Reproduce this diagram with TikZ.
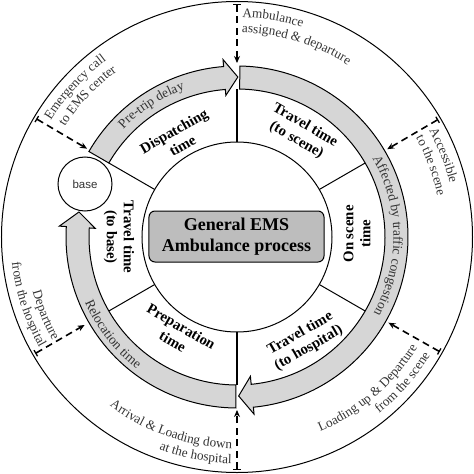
\documentclass[tikz,border=0pt]{standalone}
\usepackage{fontspec}
\setmainfont{Liberation Serif}
\newfontfamily\basefont{Liberation Sans}
\usetikzlibrary{arrows.meta,decorations.text}
\definecolor{bandgray}{gray}{0.84}
\definecolor{boxgray}{gray}{0.74}
\definecolor{txtgray}{gray}{0.2}
\newcommand\outerfnt{\fontsize{13.2}{15}\selectfont}
\newcommand\bandfnt{\fontsize{13.5}{16}\selectfont}
\begin{document}
\begin{tikzpicture}[x=1pt,y=1pt,
  ring/.style={draw=black, line width=1pt},
  bandarrow/.style={draw=black, line width=1pt, fill=bandgray, line join=miter},
  sector/.style={font=\fontsize{14.8}{17}\selectfont\bfseries, align=center, inner sep=0pt},
  evt/.style={draw=black, line width=1.6pt, dash pattern=on 7pt off 4.5pt,
    arrows={Bar[width=7pt,line width=1.3pt]-Stealth[length=7pt,width=6pt]}},
  tap/.style={decorate, decoration={text along path, text align=#1, text color=txtgray}}
]
\useasboundingbox (-237,-237) rectangle (237,237);
% outer circle
\draw[ring] (0,0) circle[radius=235.5];
% central circle
\node[circle, draw, line width=1pt, minimum size=190pt, inner sep=0pt] (core) at (0,0) {};
% sector boundaries
\foreach \a in {90,30,-30,-90,210,150} \draw[ring] (\a:95) -- (\a:148);
% band arrows
\draw[bandarrow] (150:171) arc[start angle=150,end angle=94.5,radius=171] -- (94.5:178) -- (89.7:160) -- (94.5:142) -- (94.5:148) arc[start angle=94.5,end angle=150,radius=148] -- cycle;
\draw[bandarrow] (89:171) arc[start angle=89,end angle=-84.5,radius=171] -- (-84.5:178) -- (-89.4:159) -- (-84.5:140) -- (-84.5:148) arc[start angle=-84.5,end angle=89,radius=148] -- cycle;
\draw[bandarrow] (-90.4:171) arc[start angle=-90.4,end angle=-183.5,radius=171] -- (-183.5:178) -- (-189:160) -- (-183.5:142) -- (-183.5:148) arc[start angle=-183.5,end angle=-90.4,radius=148] -- cycle;
% band labels
\path[tap=center, decoration={text={|\bandfnt|Pre-trip delay}}] (150:156.5) arc[start angle=150,end angle=96,radius=156.5];
\path[tap=center, decoration={text={|\bandfnt|Affected by traffic congestion}}] (46:156.5) arc[start angle=46,end angle=-45,radius=156.5];
\path[tap=center, decoration={text={|\bandfnt|Relocation time}}] (190:165.5) arc[start angle=190,end angle=246,radius=165.5];
% base
\node[circle, draw, line width=1pt, fill=white, minimum size=54pt, inner sep=0pt, font=\basefont\fontsize{11.5}{12}\selectfont, text=txtgray] (base) at (-152,53) {base};
% title
\node[draw, line width=1pt, fill=boxgray, rounded corners=6pt, minimum width=175pt, minimum height=51pt, align=center, font=\fontsize{18}{20.6}\selectfont\bfseries] (title) at (-0.5,0.5) {General EMS\\Ambulance process};
% sector labels
\node[sector, rotate=30] (dispatch) at (120.8:115) {Dispatching\\time};
\node[sector, rotate=-30] (toscene) at (58.5:122) {Travel time\\(to scene)};
\node[sector, rotate=90] (onscene) at (1.5:120) {On scene\\time};
\node[sector, rotate=30] (tohosp) at (-57:124) {Travel time\\(to hospital)};
\node[sector, rotate=-30] (prep) at (-121.7:114) {Preparation\\time};
\node[sector, rotate=-90] (tobase) at (180:118) {Travel time\\(to base)};
% event arrows
\coordinate (e1s) at (149.5:233); \coordinate (e1e) at (149.5:174);
\coordinate (e2s) at (90:233);    \coordinate (e2e) at (90:174);
\coordinate (e3s) at (30.3:233);  \coordinate (e3e) at (30.3:174);
\coordinate (e4s) at (-29.5:233); \coordinate (e4e) at (-29.5:174);
\coordinate (e5s) at (-90:233);   \coordinate (e5e) at (-90:173);
\coordinate (e6s) at (210:233);   \coordinate (e6e) at (210:176);
\foreach \i in {1,...,6} \draw[evt] (e\i s) -- (e\i e);
% event labels
\path[tap=left, decoration={text={|\outerfnt|Emergency call}}] (148:219.5) arc[start angle=148,end angle=100,radius=219.5];
\path[tap=left, decoration={text={|\outerfnt|to EMS center}}] (147.3:204.5) arc[start angle=147.3,end angle=100,radius=204.5];
\path[tap=left, decoration={text={|\outerfnt|Ambulance}}] (88.6:219.5) arc[start angle=88.6,end angle=40,radius=219.5];
\path[tap=left, decoration={text={|\outerfnt|assigned {\&} departure}}] (88.6:204.5) arc[start angle=88.6,end angle=40,radius=204.5];
\path[tap=left, decoration={text={|\outerfnt|Accessible}}] (29:219.5) arc[start angle=29,end angle=-20,radius=219.5];
\path[tap=left, decoration={text={|\outerfnt|to the scene}}] (29:204.5) arc[start angle=29,end angle=-20,radius=204.5];
\path[tap=right, decoration={text={|\outerfnt|Loading up {\&} Departure}}] (-100:211.5) arc[start angle=-100,end angle=-31.5,radius=211.5];
\path[tap=right, decoration={text={|\outerfnt|from the scene}}] (-100:226.5) arc[start angle=-100,end angle=-31.5,radius=226.5];
\path[tap=right, decoration={text={|\outerfnt|Arrival {\&} Loading down}}] (190:211.5) arc[start angle=190,end angle=268.6,radius=211.5];
\path[tap=right, decoration={text={|\outerfnt|at the hospital}}] (190:226.5) arc[start angle=190,end angle=268.6,radius=226.5];
\path[tap=right, decoration={text={|\outerfnt|Departure}}] (140:211.5) arc[start angle=140,end angle=209.3,radius=211.5];
\path[tap=right, decoration={text={|\outerfnt|from the hospital}}] (140:226.5) arc[start angle=140,end angle=209.3,radius=226.5];
\end{tikzpicture}
\end{document}
